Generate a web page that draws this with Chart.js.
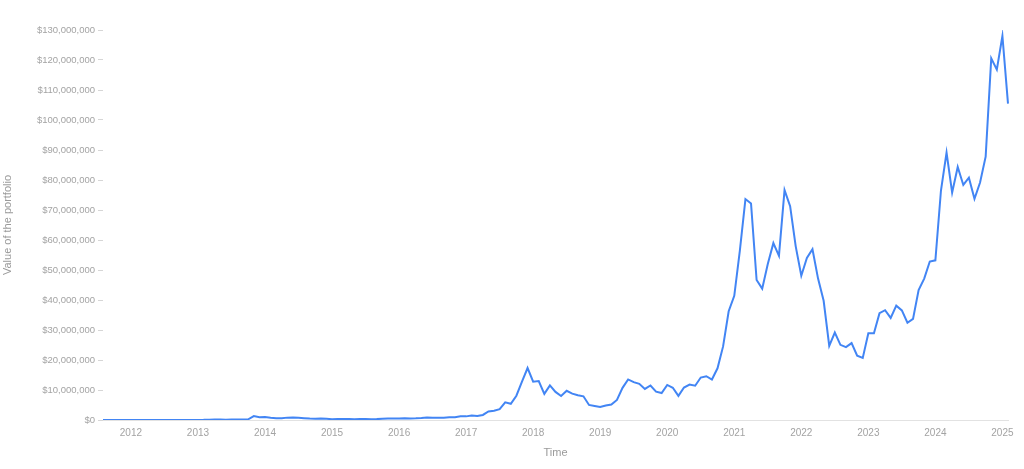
<!DOCTYPE html>
<html>
<head>
<meta charset="utf-8">
<title>Value of the portfolio</title>
<script src="https://cdn.jsdelivr.net/npm/chart.js@4.4.1/dist/chart.umd.min.js"></script>
<style>
  html, body { margin: 0; padding: 0; background: #fff; }
  #wrap { width: 1024px; height: 469px; position: relative; }
</style>
</head>
<body>
<div id="wrap"><canvas id="portfolio-chart"></canvas></div>
<script>
// First month of the series (monthly points)
const startYear = 2011;
const startMonth = 8;

// Portfolio value per month, in millions of dollars
const values2011 = [0.010, 0.006, 0.004, 0.004, 0.006];
const values2012 = [0.007, 0.006, 0.006, 0.006, 0.006, 0.008, 0.012, 0.013, 0.016, 0.014, 0.016, 0.017];
const values2013 = [0.026, 0.042, 0.116, 0.174, 0.161, 0.121, 0.133, 0.169, 0.166, 0.248, 1.3, 0.9];
const values2014 = [1.0, 0.72, 0.57, 0.56, 0.79, 0.80, 0.73, 0.60, 0.48, 0.42, 0.47, 0.40];
const values2015 = [0.27, 0.32, 0.31, 0.30, 0.29, 0.33, 0.36, 0.29, 0.30, 0.39, 0.47, 0.54];
const values2016 = [0.46, 0.55, 0.52, 0.56, 0.66, 0.84, 0.78, 0.72, 0.76, 0.88, 0.93, 1.21];
const values2017 = [1.21, 1.49, 1.35, 1.69, 2.86, 3.10, 3.59, 5.88, 5.42, 8.09, 12.79, 17.33];
const values2018 = [12.78, 13.00, 8.72, 11.55, 9.37, 8.01, 9.73, 8.80, 8.28, 7.90, 5.02, 4.68];
const values2019 = [4.32, 4.82, 5.13, 6.69, 10.72, 13.52, 12.61, 12.04, 10.37, 11.50, 9.46, 8.99];
const values2020 = [11.69, 10.75, 8.05, 10.82, 11.83, 11.42, 14.15, 14.60, 13.48, 17.23, 24.53, 36.25];
const values2021 = [41.39, 56.42, 73.65, 72.19, 46.67, 43.80, 52.03, 58.96, 54.74, 76.65, 71.26, 57.88];
const values2022 = [48.10, 53.99, 56.92, 47.14, 39.74, 24.73, 29.17, 25.06, 24.29, 25.62, 21.46, 20.69];
const values2023 = [28.92, 28.93, 35.60, 36.59, 34.02, 38.10, 36.54, 32.43, 33.71, 43.33, 47.14, 52.83];
const values2024 = [53.23, 76.50, 89.17, 75.80, 84.36, 78.35, 80.77, 73.71, 79.16, 87.77, 120.56, 116.79];
const values2025 = [128.01, 105.47];

const portfolioValues = [].concat(
  values2011, values2012, values2013, values2014, values2015, values2016, values2017,
  values2018, values2019, values2020, values2021, values2022, values2023, values2024, values2025
);

// y axis: $0 .. $130,000,000 every $10,000,000 (in millions)
const yMax = 130;
const yStep = 10;

// month labels like "2011-08"
const months = [];
for (let i = 0; i < portfolioValues.length; i++) {
  const m = startMonth - 1 + i;
  const y = startYear + Math.floor(m / 12);
  const mm = (m % 12) + 1;
  months.push(y + "-" + String(mm).padStart(2, "0"));
}

const fontFamily = "'Liberation Sans', Arial, sans-serif";
const tickColor = "#a3a3a3";
const titleColor = "#9a9a9a";

const ctx = document.getElementById("portfolio-chart").getContext("2d");
new Chart(ctx, {
  type: "line",
  data: {
    labels: months,
    datasets: [{
      label: "Value of the portfolio",
      data: portfolioValues,
      borderColor: "#4285f4",
      backgroundColor: "#4285f4",
      borderWidth: 2,
      pointRadius: 0,
      pointHoverRadius: 0,
      tension: 0,
      fill: false,
    }],
  },
  options: {
    responsive: true,
    maintainAspectRatio: false,
    animation: false,
    layout: {
      padding: { top: 30, right: 16, bottom: 5, left: 0 },
    },
    plugins: {
      legend: { display: false },
      tooltip: { enabled: false },
    },
    scales: {
      x: {
        type: "category",
        offset: false,
        grid: { display: false, drawTicks: false },
        border: { display: true, color: "#e2e2e2", width: 1 },
        ticks: {
          autoSkip: false,
          maxRotation: 0,
          minRotation: 0,
          padding: 7,
          color: tickColor,
          font: { family: fontFamily, size: 10 },
          callback: function (value, index) {
            const label = months[index];
            return label.endsWith("-01") ? label.slice(0, 4) : "";
          },
        },
        title: {
          display: true,
          text: "Time",
          color: titleColor,
          font: { family: fontFamily, size: 11 },
          padding: { top: 8, bottom: 4 },
        },
        afterFit: function (scale) {
          scale.height = 44;
        },
      },
      y: {
        min: 0,
        max: yMax,
        grid: {
          display: true,
          drawOnChartArea: false,
          drawTicks: true,
          tickLength: 5,
          color: "#d6d6d6",
        },
        border: { display: false },
        ticks: {
          stepSize: yStep,
          padding: 3,
          color: tickColor,
          font: { family: fontFamily, size: 9.5 },
          callback: function (value) {
            return "$" + (value * 1000000).toLocaleString("en-US");
          },
        },
        title: {
          display: true,
          text: "Value of the portfolio",
          color: titleColor,
          font: { family: fontFamily, size: 11 },
          padding: { top: 1, bottom: 4 },
        },
        afterFit: function (scale) {
          scale.width = 103;
        },
      },
    },
  },
});
</script>
</body>
</html>
